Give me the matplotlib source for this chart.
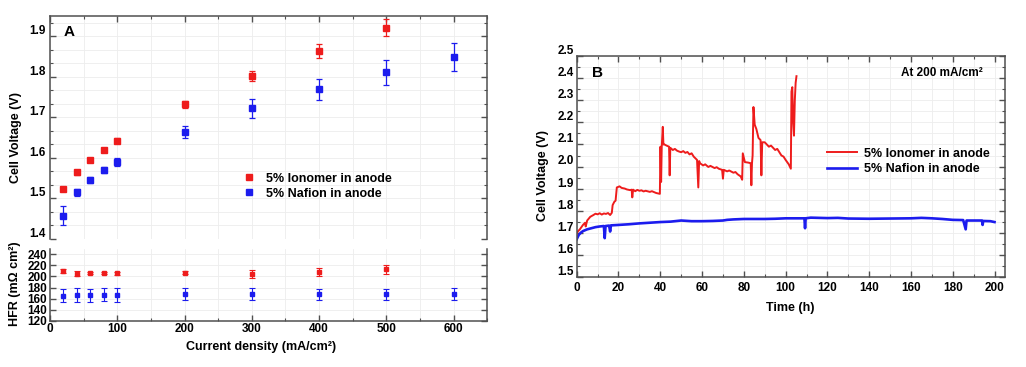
#!/usr/bin/env python3
"""
Polarization + HFR (A) and 200 mA/cm2 durability (B) for the two anode inks.
"""

import matplotlib
matplotlib.use('Agg')
import matplotlib.pyplot as plt
import matplotlib.transforms as mtransforms
from matplotlib.ticker import MultipleLocator, AutoMinorLocator, FormatStrFormatter

plt.rcParams['font.family'] = ['Liberation Sans', 'DejaVu Sans']
plt.rcParams['font.weight'] = 'bold'

RED = '#ee1c1c'
BLUE = '#1c1cee'
SPINE = '#505050'

LABEL_IONOMER = '5% Ionomer in anode'
LABEL_NAFION = '5% Nafion in anode'

# --- panel A: polarization curves -------------------------------------------
current_ionomer = [20, 40, 60, 80, 100, 200, 300, 400, 500]
volt_ionomer = [1.522, 1.564, 1.595, 1.620, 1.642, 1.732, 1.802, 1.864, 1.921]
volt_ionomer_err = [0.005, 0.006, 0.005, 0.005, 0.006, 0.009, 0.013, 0.017, 0.021]

current_nafion = [20, 40, 60, 80, 100, 200, 300, 400, 500, 600]
volt_nafion = [1.457, 1.515, 1.545, 1.570, 1.590, 1.664, 1.722, 1.769, 1.811, 1.849]
volt_nafion_err = [0.023, 0.008, 0.008, 0.008, 0.010, 0.015, 0.023, 0.026, 0.031, 0.035]

# HFR (mOhm cm2)
hfr_ionomer = [210, 205, 207, 207, 206, 207, 204, 208, 213]
hfr_ionomer_err = [3, 5, 2, 2, 3, 3, 7, 7, 8]
hfr_nafion = [165, 166, 166, 167, 167, 168, 169, 168, 168, 169]
hfr_nafion_err = [12, 13, 12, 12, 13, 11, 11, 10, 10, 11]

# --- panel B: durability at 200 mA/cm2 -------------------------------------
time_ionomer = [0, 0.5, 1.5, 3, 4, 4.3, 5, 6.5, 8, 9, 10, 11, 12, 13, 14, 15, 16,
                16.8, 17.2, 18, 18.6, 19.2, 20.5, 21.5, 23, 24, 25.5, 26.3, 26.6,
                27, 28, 29, 30, 31, 32, 33, 35, 36, 38, 39.8, 40.1, 40.4, 40.7,
                41.2, 41.5, 42, 43, 44.2, 44.5, 44.8, 46, 47, 48, 49, 50, 51, 52,
                53, 54, 55, 56, 57.6, 58.2, 58.6, 59, 60.5, 61.5, 63, 64, 66, 67,
                68, 69.6, 70, 70.4, 72, 73, 75, 76, 77, 78.5, 79.2, 79.5, 80.5, 82,
                83.3, 83.6, 83.9, 84.2, 84.6, 85.2, 86, 87, 88, 88.4, 88.8, 90, 91,
                92, 93, 95, 96, 98, 99, 100, 101.5, 102.5, 102.8, 103.2, 103.6,
                104.0, 104.4, 104.8, 105.2]
cell_v_ionomer = [1.695, 1.705, 1.715, 1.735, 1.745, 1.728, 1.755, 1.772, 1.780,
                  1.786, 1.783, 1.788, 1.782, 1.787, 1.785, 1.789, 1.780, 1.790,
                  1.825, 1.840, 1.845, 1.905, 1.910, 1.903, 1.900, 1.896, 1.893,
                  1.895, 1.860, 1.895, 1.888, 1.894, 1.890, 1.892, 1.887, 1.890,
                  1.885, 1.888, 1.880, 1.876, 2.090, 1.930, 2.090, 2.180, 2.100,
                  2.100, 2.095, 2.090, 1.960, 2.085, 2.075, 2.080, 2.072, 2.068,
                  2.065, 2.070, 2.062, 2.066, 2.055, 2.060, 2.045, 2.030, 1.905,
                  2.025, 2.015, 2.005, 2.010, 1.998, 2.003, 1.993, 1.997, 1.990,
                  1.985, 1.945, 1.985, 1.978, 1.982, 1.972, 1.975, 1.965, 1.955,
                  1.940, 2.060, 2.020, 2.018, 2.015, 1.915, 2.015, 2.050, 2.270,
                  2.190, 2.170, 2.130, 2.120, 1.960, 2.110, 2.110, 2.100, 2.090,
                  2.095, 2.075, 2.080, 2.050, 2.045, 2.030, 2.010, 1.990, 2.340,
                  2.360, 2.200, 2.140, 2.300, 2.380, 2.410]

time_nafion = [0, 0.5, 1, 2, 3, 5, 7, 9, 11, 13, 13.4, 13.8, 15.5, 16, 16.4, 20,
               25, 30, 35, 40, 45, 50, 55, 60, 65, 70, 72, 75, 80, 85, 90, 95, 100,
               105, 109, 109.3, 109.6, 112, 120, 125, 130, 140, 150, 160, 165, 170,
               175, 180, 185, 186.2, 186.6, 190, 194, 194.3, 194.6, 198, 200]
cell_v_nafion = [1.670, 1.680, 1.690, 1.700, 1.707, 1.715, 1.720, 1.725, 1.728,
                 1.730, 1.675, 1.730, 1.732, 1.705, 1.733, 1.735, 1.738, 1.742,
                 1.745, 1.748, 1.750, 1.755, 1.752, 1.752, 1.753, 1.755, 1.758,
                 1.760, 1.762, 1.762, 1.762, 1.763, 1.765, 1.765, 1.765, 1.720,
                 1.765, 1.768, 1.766, 1.767, 1.764, 1.763, 1.764, 1.765, 1.767,
                 1.765, 1.762, 1.758, 1.757, 1.715, 1.755, 1.755, 1.755, 1.735,
                 1.753, 1.752, 1.748]


def style_axes(ax, fontsize=8.5):
    for sp in ax.spines.values():
        sp.set_color(SPINE)
        sp.set_linewidth(1.1)
    ax.tick_params(which='both', direction='in', top=True, right=True,
                   color=SPINE, labelsize=fontsize)
    ax.tick_params(which='major', length=4, width=1.0)
    ax.tick_params(which='minor', length=2.5, width=0.8)
    ax.grid(which='both', color='#ededed', linewidth=0.6)
    ax.set_axisbelow(True)


def shift_ylabels(fig, ax, dy_pt):
    # the source figure has its y tick labels sitting a bit above the ticks
    offset = mtransforms.ScaledTranslation(0, dy_pt / 72, fig.dpi_scale_trans)
    for lab in ax.get_yticklabels():
        lab.set_transform(lab.get_transform() + offset)


def main() -> None:
    fig = plt.figure(figsize=(10.26, 3.67), dpi=100)

    ax_v = fig.add_axes([0.0487, 0.349, 0.4262, 0.608])
    ax_h = fig.add_axes([0.0487, 0.126, 0.4262, 0.196], sharex=ax_v)
    ax_b = fig.add_axes([0.5621, 0.246, 0.4174, 0.6005])

    # ---- A: cell voltage
    ax_v.errorbar(current_ionomer, volt_ionomer, yerr=volt_ionomer_err, fmt='none',
                  ecolor=RED, elinewidth=0.9, capsize=2.2, capthick=0.9)
    ax_v.errorbar(current_nafion, volt_nafion, yerr=volt_nafion_err, fmt='none',
                  ecolor=BLUE, elinewidth=0.9, capsize=2.2, capthick=0.9)
    ax_v.plot(current_ionomer, volt_ionomer, 's', color=RED, ms=4.6, label=LABEL_IONOMER)
    ax_v.plot(current_nafion, volt_nafion, 's', color=BLUE, ms=4.6, label=LABEL_NAFION)

    ax_v.set_xlim(0, 650)
    ax_v.set_ylim(1.4, 1.95)
    ax_v.xaxis.set_major_locator(MultipleLocator(100))
    ax_v.xaxis.set_minor_locator(MultipleLocator(50))
    ax_v.yaxis.set_major_locator(MultipleLocator(0.1))
    ax_v.yaxis.set_minor_locator(AutoMinorLocator(3))
    style_axes(ax_v)
    ax_v.spines['bottom'].set_visible(False)
    ax_v.tick_params(which='both', bottom=False, labelbottom=False, pad=3)
    ax_v.set_ylabel('Cell Voltage (V)', fontsize=9, fontweight='bold', va='center')
    ax_v.yaxis.set_label_coords(-0.078, 0.455)
    ax_v.text(0.0435, 0.927, 'A', transform=ax_v.transAxes, fontsize=11,
              fontweight='bold', ha='center', va='center')
    ax_v.legend(loc='upper left', bbox_to_anchor=(0.44, 0.297), frameon=False,
                fontsize=9, handlelength=1.0, handletextpad=0.9, borderpad=0,
                labelspacing=0.25, borderaxespad=0, markerscale=0.9)

    # ---- A: HFR
    ax_h.errorbar(current_ionomer, hfr_ionomer, yerr=hfr_ionomer_err, fmt='s', color=RED,
                  ms=3.4, elinewidth=0.8, capsize=2.0, capthick=0.8)
    ax_h.errorbar(current_nafion, hfr_nafion, yerr=hfr_nafion_err, fmt='s', color=BLUE,
                  ms=3.4, elinewidth=0.8, capsize=2.0, capthick=0.8)
    ax_h.set_ylim(120, 250)
    ax_h.yaxis.set_major_locator(MultipleLocator(20))
    style_axes(ax_h)
    ax_h.spines['top'].set_visible(False)
    ax_h.tick_params(which='both', top=False)
    ax_h.tick_params(axis='x', pad=1.5)
    ax_h.tick_params(axis='y', pad=2)
    ax_h.set_ylabel('HFR (mΩ cm²)', fontsize=9, fontweight='bold', va='center')
    ax_h.yaxis.set_label_coords(-0.081, 0.51)
    ax_h.set_xlabel('Current density (mA/cm²)', fontsize=9, fontweight='bold', va='center')
    ax_h.xaxis.set_label_coords(0.482, -0.363)

    # ---- B: durability
    ax_b.plot(time_nafion, cell_v_nafion, color=BLUE, lw=1.9, label=LABEL_NAFION)
    ax_b.plot(time_ionomer, cell_v_ionomer, color=RED, lw=1.4, label=LABEL_IONOMER)
    ax_b.set_xlim(0, 205)
    ax_b.set_ylim(1.5, 2.5)
    ax_b.xaxis.set_major_locator(MultipleLocator(20))
    ax_b.xaxis.set_minor_locator(MultipleLocator(10))
    ax_b.yaxis.set_major_locator(MultipleLocator(0.1))
    ax_b.yaxis.set_minor_locator(MultipleLocator(0.05))
    ax_b.yaxis.set_major_formatter(FormatStrFormatter('%.1f'))
    style_axes(ax_b)
    ax_b.tick_params(axis='x', pad=3.5)
    ax_b.tick_params(axis='y', pad=2)
    ax_b.set_ylabel('Cell Voltage (V)', fontsize=9, fontweight='bold', va='center')
    ax_b.yaxis.set_label_coords(-0.0787, 0.458)
    ax_b.set_xlabel('Time (h)', fontsize=9, fontweight='bold', va='center')
    ax_b.xaxis.set_label_coords(0.498, -0.141)
    ax_b.text(0.0486, 0.924, 'B', transform=ax_b.transAxes, fontsize=11,
              fontweight='bold', ha='center', va='center')
    ax_b.text(0.852, 0.924, 'At 200 mA/cm²', transform=ax_b.transAxes, fontsize=8.5,
              fontweight='bold', ha='center', va='center')
    handles, labels = ax_b.get_legend_handles_labels()
    ax_b.legend(handles[::-1], labels[::-1], loc='upper left', bbox_to_anchor=(0.585, 0.585),
                frameon=False, fontsize=9, handlelength=2.4, handletextpad=0.55,
                borderpad=0, labelspacing=0.25, borderaxespad=0)

    fig.canvas.draw()
    shift_ylabels(fig, ax_v, 4.7)
    shift_ylabels(fig, ax_b, 4.7)

    fig.savefig('out.png', dpi=100)
    plt.close(fig)


if __name__ == "__main__":
    main()
